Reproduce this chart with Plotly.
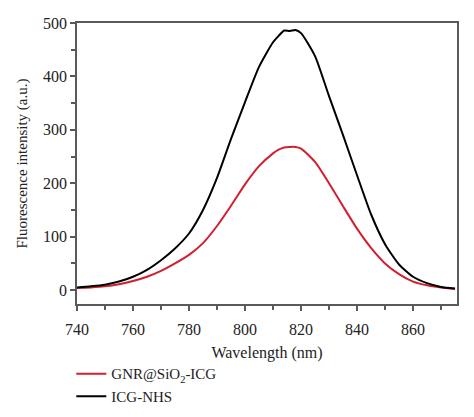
import plotly.graph_objects as go

wavelength = [740, 745, 750, 755, 760, 765, 770, 775, 780, 785, 790, 795, 800, 805,
              810, 812, 814, 816, 818, 820, 825, 830, 835, 840, 845, 850, 855, 860,
              865, 870, 875]
icg_nhs = [5, 7, 10, 16, 25, 38, 56, 78, 106, 150, 210, 283, 352, 418,
           464, 476, 486, 485, 487, 481, 438, 363, 290, 215, 142, 86, 48, 25,
           13, 6, 3]
gnr_sio2_icg = [4, 5, 7, 11, 17, 25, 36, 50, 66, 88, 120, 158, 198, 232,
                256, 263, 267, 268, 268, 265, 240, 200, 157, 115, 79, 50, 30, 16,
                9, 5, 2]

FONT = "Liberation Serif"
TXT = "#222222"
AX = "#5a5a5a"

fig = go.Figure()
fig.add_trace(go.Scatter(x=wavelength, y=gnr_sio2_icg, mode="lines",
                         name="GNR@SiO<sub>2</sub>-ICG",
                         line=dict(color="#d21f2f", width=2, shape="spline", smoothing=0.6)))
fig.add_trace(go.Scatter(x=wavelength, y=icg_nhs, mode="lines",
                         name="ICG-NHS",
                         line=dict(color="#000000", width=2, shape="spline", smoothing=0.6)))

axis_common = dict(showgrid=False, zeroline=False, showline=True, linecolor=AX,
                   linewidth=1.5, mirror=True, ticks="outside", ticklen=5, tickwidth=1.5,
                   tickcolor=AX, tickfont=dict(family=FONT, size=16, color=TXT))

fig.update_xaxes(range=[740, 875.7], tickvals=[740, 760, 780, 800, 820, 840, 860],
                 ticklabelstandoff=5,
                 minor=dict(ticks="outside", ticklen=4, tickwidth=1.5, tickcolor=AX, dtick=10,
                            tick0=740),
                 title=dict(text="Wavelength (nm)", font=dict(family=FONT, size=16, color=TXT),
                            standoff=10),
                 **axis_common)
fig.update_yaxes(range=[-26, 500], tickvals=[0, 100, 200, 300, 400, 500],
                 minor=dict(ticks="outside", ticklen=4, tickwidth=1.5, tickcolor=AX, dtick=50,
                            tick0=0),
                 title=dict(text="Fluorescence intensity (a.u.)",
                            font=dict(family=FONT, size=15, color=TXT), standoff=12),
                 **axis_common)

fig.update_layout(
    width=474, height=417,
    margin=dict(l=77, r=17, t=23, b=113, autoexpand=False),
    plot_bgcolor="white", paper_bgcolor="white",
    showlegend=True,
    legend=dict(x=-0.015, y=-0.19, xanchor="left", yanchor="top",
                font=dict(family=FONT, size=15, color=TXT),
                bgcolor="rgba(0,0,0,0)", tracegroupgap=0, itemwidth=30),
)

fig.write_html("out.html")
